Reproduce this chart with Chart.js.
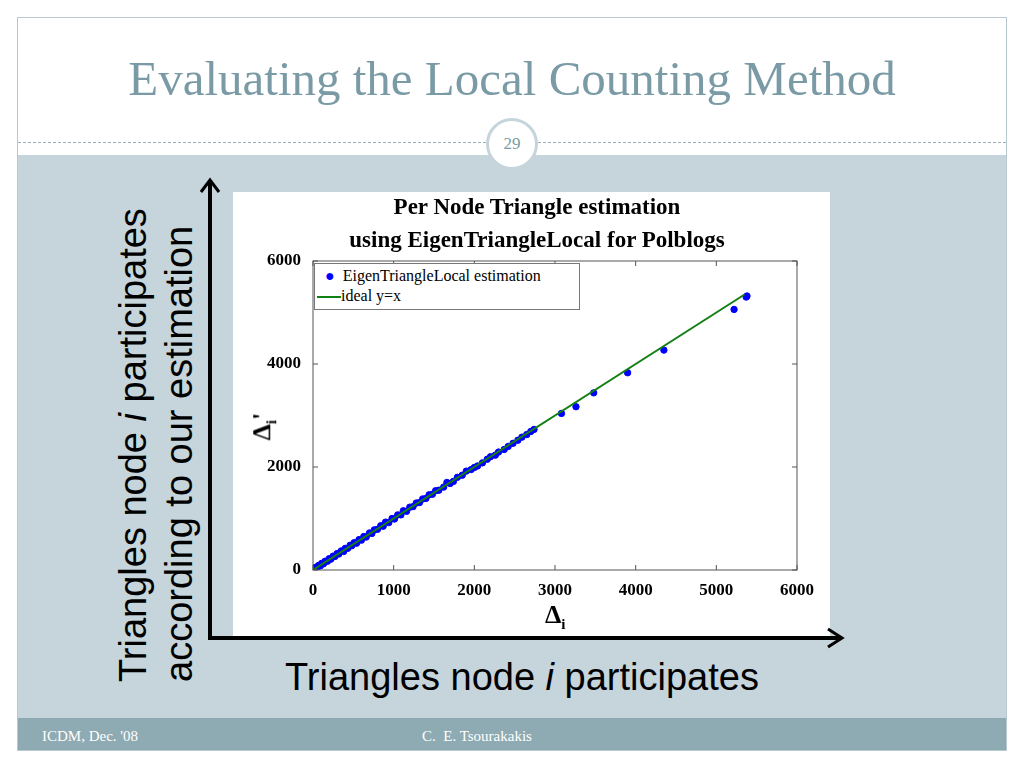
<!DOCTYPE html>
<html><head><meta charset="utf-8">
<script src="https://cdn.jsdelivr.net/npm/chart.js@4"></script>
<style>
body{margin:0;width:1024px;height:768px;position:relative;overflow:hidden;background:#fff;font-family:"Liberation Serif",serif}
#frame{position:absolute;left:17px;top:17px;width:990px;height:734px;border:1px solid #b8c8cf;box-sizing:border-box}
#body{position:absolute;left:18px;top:155px;width:988px;height:563px;background:#c6d4db}
#foot{position:absolute;left:18px;top:718px;width:988px;height:32px;background:#8eaab2}
#title{position:absolute;left:0;width:1024px;top:50px;text-align:center;font-size:49px;color:#7a9ba5}
#dash{position:absolute;left:18px;width:988px;top:142px;border-top:1px dashed #9ab0b8}
#num{position:absolute;left:486px;top:118px;width:52px;height:52px;border-radius:50%;background:#fff;border:3px solid #c6d4db;box-sizing:border-box;text-align:center;line-height:46px;color:#7a9ba5;font-size:17px}
#panel{position:absolute;left:233px;top:192px;width:597px;height:448px;background:#fff}
#ctitle{position:absolute;left:233px;top:190px;width:608px;text-align:center;font-size:23px;font-weight:bold;line-height:33px;color:#000}
#legend{position:absolute;left:314px;top:263px;width:266px;height:47px;border:1px solid #777;background:#fff;font-size:16px;box-sizing:border-box}
.ylab{position:absolute;font-family:"Liberation Sans",sans-serif;font-size:38px;transform:rotate(-90deg);transform-origin:left top;white-space:nowrap}
#xlab{position:absolute;left:0;width:1044px;text-align:center;top:656px;font-family:"Liberation Sans",sans-serif;font-size:38px}
.foott{position:absolute;top:728px;font-size:15px;color:#fff}
</style></head><body>
<div id="frame"></div>
<div id="title">Evaluating the Local Counting Method</div>
<div id="body"></div>
<div id="dash"></div>
<div id="num">29</div>
<div id="foot"></div>
<div class="foott" style="left:42px">ICDM, Dec. '08</div>
<div class="foott" style="left:422px">C.&nbsp; E. Tsourakakis</div>
<div id="panel"><canvas id="c" width="597" height="448"></canvas></div>
<div id="ctitle">Per Node Triangle estimation<br>using EigenTriangleLocal for Polblogs</div>
<div id="legend">
 <div style="position:absolute;left:10px;top:3px"><span style="color:#0000ff">●</span>&nbsp; EigenTriangleLocal estimation</div>
 <div style="position:absolute;left:2px;top:23px"><span style="display:inline-block;width:24px;border-top:2px solid #138013;vertical-align:middle"></span>ideal y=x</div>
</div>
<div style="position:absolute;left:250px;top:410px;font-size:26px;font-weight:bold;transform:rotate(-90deg)">Δ<sub style="font-size:15px">i</sub>'</div>
<div style="position:absolute;left:545px;top:600px;font-size:26px;font-weight:bold">Δ<sub style="font-size:15px">i</sub></div>
<div class="ylab" style="left:112px;top:682px">Triangles node <i>i</i> participates</div>
<div class="ylab" style="left:158px;top:682px">according to our estimation</div>
<div id="xlab">Triangles node <i>i</i> participates</div>
<svg style="position:absolute;left:0;top:0" width="1024" height="768">
 <line x1="210" y1="640" x2="210" y2="182" stroke="#000" stroke-width="4"/>
 <polyline points="201,192 210,180 219,192" fill="none" stroke="#000" stroke-width="3"/>
 <line x1="208" y1="638" x2="840" y2="638" stroke="#000" stroke-width="4"/>
 <polyline points="828,629 842,638 828,647" fill="none" stroke="#000" stroke-width="3"/>
</svg>
<script>
const xTicks=[0,1000,2000,3000,4000,5000,6000];
const yTicks=[0,2000,4000,6000];
const actual=[10,30,50,70,90,110,130,150,180,200,220,250,270,300,320,350,380,400,430,460,480,510,540,570,600,630,660,700,730,760,800,840,870,900,940,980,1010,1050,1090,1120,1160,1200,1240,1280,1320,1360,1400,1440,1480,1520,1560,1620,1660,1700,1740,1790,1850,1900,1960,2000,2040,2100,2160,2200,2260,2300,2370,2420,2480,2540,2590,2650,2700,2740,3080,3260,3480,3900,4350,5220,5370,5380];
const estimate=[20,50,45,90,80,130,120,170,170,220,210,270,260,320,310,370,360,420,420,480,470,530,520,590,580,650,640,720,710,780,790,860,850,930,920,1000,990,1070,1070,1150,1140,1220,1230,1300,1310,1380,1390,1460,1470,1540,1550,1610,1700,1680,1720,1800,1840,1920,1950,1990,2020,2080,2150,2200,2230,2290,2340,2400,2460,2520,2580,2630,2690,2730,3040,3170,3440,3830,4270,5060,5300,5320];
const idealX=[0,5350];
const sc=actual.map((v,i)=>({x:v,y:estimate[i]}));
const frame={id:'frame',afterDraw(c){const a=c.chartArea,x=c.ctx;x.save();x.strokeStyle='#555';x.lineWidth=1;x.strokeRect(a.left,a.top,a.right-a.left,a.bottom-a.top);
 xTicks.forEach(t=>{const p=c.scales.x.getPixelForValue(t);x.beginPath();x.moveTo(p,a.bottom);x.lineTo(p,a.bottom-5);x.moveTo(p,a.top);x.lineTo(p,a.top+5);x.stroke();});
 yTicks.forEach(t=>{const p=c.scales.y.getPixelForValue(t);x.beginPath();x.moveTo(a.left,p);x.lineTo(a.left+5,p);x.moveTo(a.right,p);x.lineTo(a.right-5,p);x.stroke();});x.restore();}};
const tf={family:'Liberation Serif',size:17,weight:'bold'};
new Chart(document.getElementById('c'),{type:'scatter',
 data:{datasets:[
  {label:'ideal y=x',type:'line',data:idealX.map(v=>({x:v,y:v})),borderColor:'#138013',borderWidth:2,pointRadius:0,order:0},
  {label:'EigenTriangleLocal estimation',data:sc,backgroundColor:'#0000ff',borderColor:'#0000ff',pointRadius:3.2,order:1}]},
 options:{responsive:false,animation:false,layout:{padding:{left:0,right:33,top:69,bottom:0}},
  plugins:{legend:{display:false},tooltip:{enabled:false}},
  scales:{
   x:{type:'linear',min:0,max:6000,afterBuildTicks:s=>{s.ticks=xTicks.map(v=>({value:v}))},grid:{display:false},border:{display:false},
      ticks:{color:'#000',font:tf,maxRotation:0,padding:2,callback:v=>String(v)},afterFit:s=>{s.height=70}},
   y:{type:'linear',min:0,max:6000,afterBuildTicks:s=>{s.ticks=yTicks.map(v=>({value:v}))},grid:{display:false},border:{display:false},
      ticks:{color:'#000',font:tf,padding:4,callback:v=>String(v)},afterFit:s=>{s.width=80}}}},
 plugins:[frame]});
</script>
</body></html>
